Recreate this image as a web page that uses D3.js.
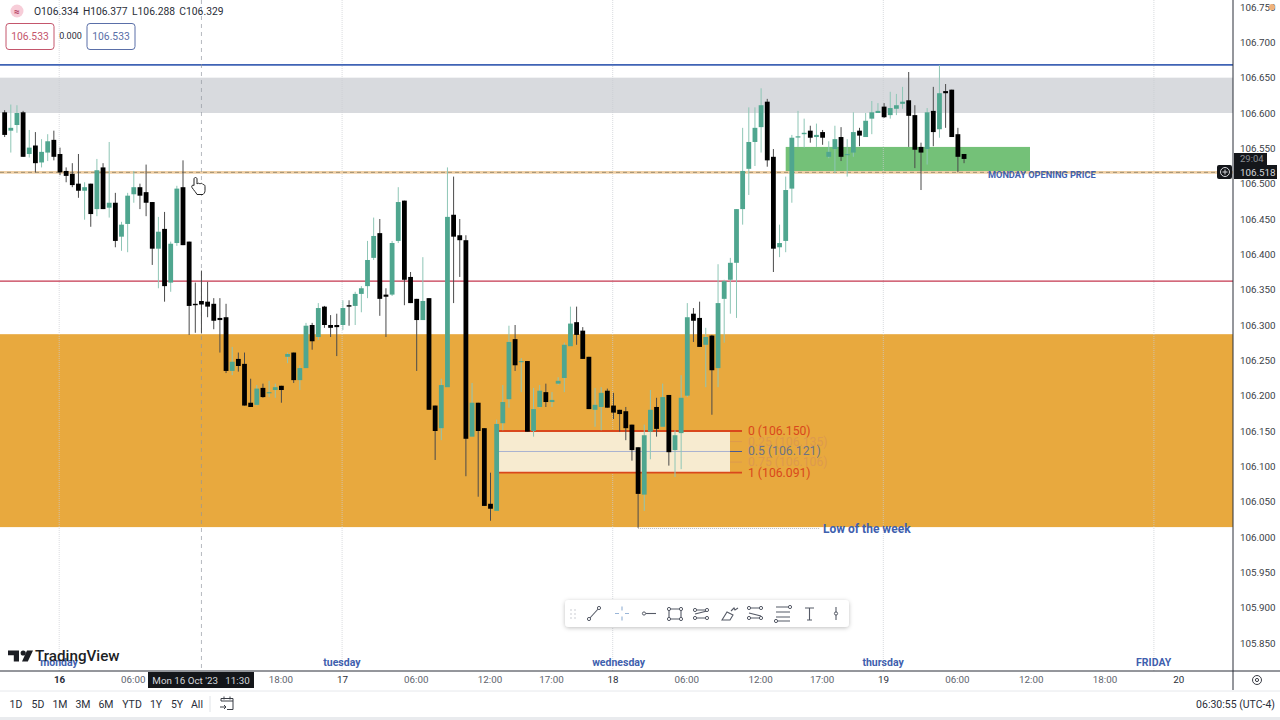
<!DOCTYPE html>
<html>
<head>
    <meta charset="utf-8">
    <title>DXY 30m chart</title>
    <style>
        html, body { margin: 0; padding: 0; background: #fff; }
        svg { display: block; font-family: "Roboto", "Liberation Sans", sans-serif; }
    </style>
    <script src="https://d3js.org/d3.v7.min.js"></script>
</head>
<body>
<div id="chart"></div>
<script>
    // 30 minute candles
    const opens = [
        106.601,106.575,106.583,106.601,106.542,106.554,106.530,106.544,106.562,106.542,
        106.518,106.514,106.500,106.490,106.500,106.464,106.523,106.466,106.473,106.425,
        106.443,106.485,106.495,106.488,106.474,106.408,106.436,106.360,106.416,106.495,
        106.418,106.330,106.334,106.333,106.330,106.310,106.311,106.235,106.252,106.245,
        106.190,106.187,106.211,106.204,106.208,106.214,106.255,106.261,106.222,106.239,
        106.300,106.283,106.326,106.300,106.300,106.300,106.328,106.327,106.344,106.355,
        106.395,106.430,106.343,106.343,106.419,106.476,106.368,106.337,106.307,106.338,
        106.186,106.154,106.212,106.456,106.427,106.420,106.142,106.190,106.154,106.047,
        106.037,106.161,106.195,106.280,106.248,106.249,106.150,106.184,106.205,106.191,
        106.217,106.225,106.270,106.304,106.292,106.255,106.180,106.184,106.207,106.186,
        106.180,106.178,106.159,106.127,106.060,106.149,106.184,106.156,106.201,106.123,
        106.147,106.200,106.316,106.310,106.272,106.285,106.239,106.337,106.364,106.388,
        106.464,106.521,106.559,106.580,106.616,106.538,106.410,106.419,106.493,106.566,
        106.570,106.575,106.566,106.573,106.538,106.549,106.566,106.541,106.544,106.575,
        106.566,106.592,106.600,106.609,106.597,106.606,106.613,106.618,106.597,106.552,
        106.549,106.603,106.577,106.631,106.633,106.570,106.542];
    const highs = [
        106.604,106.612,106.611,106.603,106.576,106.573,106.563,106.570,106.575,106.551,
        106.523,106.529,106.542,106.502,106.500,106.535,106.529,106.559,106.487,106.446,
        106.487,106.518,106.500,106.527,106.474,106.453,106.460,106.418,106.497,106.533,
        106.418,106.360,106.377,106.361,106.338,106.338,106.330,106.269,106.261,106.261,
        106.224,106.215,106.217,106.221,106.217,106.214,106.261,106.261,106.243,106.303,
        106.303,106.331,106.327,106.314,106.316,106.335,106.335,106.347,106.355,106.419,
        106.452,106.450,106.352,106.419,106.495,106.476,106.375,106.337,106.396,106.338,
        106.186,106.224,106.523,106.510,106.450,106.427,106.218,106.190,106.154,106.091,
        106.166,106.215,106.299,106.300,106.253,106.249,106.211,106.215,106.217,106.205,
        106.226,106.275,106.326,106.326,106.297,106.255,106.211,106.212,106.210,106.204,
        106.180,106.184,106.159,106.127,106.159,106.208,106.197,106.217,106.201,106.151,
        106.229,106.331,106.324,106.333,106.296,106.286,106.386,106.364,106.395,106.464,
        106.579,106.608,106.608,106.635,106.620,106.549,106.442,106.510,106.569,106.603,
        106.592,106.582,106.585,106.576,106.560,106.582,106.580,106.563,106.601,106.579,
        106.600,106.617,106.614,106.614,106.630,106.627,106.637,106.658,106.611,106.558,
        106.607,106.637,106.668,106.641,106.633,106.579,106.542];
    const lows = [
        106.566,106.544,106.572,106.538,106.537,106.516,106.523,106.532,106.533,106.512,
        106.502,106.495,106.480,106.449,106.439,106.454,106.464,106.452,106.410,106.405,
        106.403,106.473,106.464,106.454,106.385,106.352,106.333,106.347,106.412,106.413,
        106.286,106.289,106.288,106.311,106.294,106.261,106.232,106.229,106.234,106.186,
        106.184,106.186,106.197,106.198,106.197,106.190,106.246,106.218,106.208,106.239,
        106.265,106.279,106.296,106.283,106.256,106.293,106.299,106.300,106.318,106.338,
        106.392,106.313,106.283,106.341,106.416,106.328,106.331,106.235,106.307,106.180,
        106.109,106.137,106.212,106.331,106.368,106.086,106.142,106.057,106.044,106.023,
        106.037,106.151,106.183,106.235,106.205,106.149,106.142,106.183,106.184,106.184,
        106.215,106.205,106.270,106.272,106.252,106.181,106.156,106.151,106.183,106.167,
        106.149,106.137,106.108,106.013,106.037,106.110,106.142,106.156,106.101,106.085,
        106.096,106.198,106.276,106.269,106.212,106.173,106.212,106.275,106.316,106.310,
        106.442,106.484,106.525,106.544,106.524,106.375,106.396,106.403,106.473,106.552,
        106.551,106.558,106.552,106.555,106.536,106.515,106.532,106.510,106.538,106.553,
        106.566,106.570,106.600,106.593,106.592,106.597,106.606,106.552,106.522,106.491,
        106.527,106.553,106.565,106.579,106.566,106.516,106.529];
    const closes = [
        106.569,106.579,106.600,106.538,106.551,106.529,106.545,106.560,106.538,106.516,
        106.511,106.498,106.490,106.495,106.457,106.519,106.464,106.473,106.419,106.442,
        106.483,106.495,106.483,106.473,106.408,106.432,106.355,106.415,106.493,106.413,
        106.327,106.328,106.329,106.326,106.306,106.307,106.235,106.248,106.242,106.186,
        106.184,106.210,106.198,106.205,106.212,106.208,106.259,106.222,106.239,106.299,
        106.277,106.324,106.300,106.296,106.297,106.324,106.326,106.344,106.352,106.392,
        106.426,106.337,106.340,106.416,106.474,106.364,106.331,106.307,106.334,106.180,
        106.150,106.215,106.453,106.425,106.420,106.139,106.190,106.150,106.044,106.040,
        106.160,106.191,106.276,106.243,106.249,106.149,106.181,106.207,106.191,106.194,
        106.221,106.272,106.302,106.286,106.252,106.181,106.187,106.204,106.183,106.176,
        106.174,106.154,106.123,106.061,106.144,106.180,106.153,106.198,106.120,106.144,
        106.197,106.311,106.306,106.269,106.283,106.236,106.331,106.362,106.388,106.464,
        106.518,106.559,106.579,106.611,106.533,106.408,106.416,106.491,106.565,106.567,
        106.572,106.565,106.569,106.565,106.545,106.563,106.538,106.542,106.573,106.568,
        106.589,106.601,106.603,106.594,106.607,106.611,106.616,106.596,106.548,106.544,
        106.601,106.573,106.628,106.628,106.566,106.538,106.535];

    const priceTicks = d3.range(0, 19).map(i => +(106.75 - i * 0.05).toFixed(3));

    // bar index of each label on the time axis
    const timeBars = [9, 21, 45, 55, 67, 79, 89, 99, 111, 123, 133, 143, 155, 167, 179, 191];
    const timeLabels = ["16", "06:00", "18:00", "17", "06:00", "12:00", "17:00", "18", "06:00", "12:00", "17:00", "19", "06:00", "12:00", "18:00", "20"];

    // day separators drawn on the chart and their captions
    const dayBars = [9, 55, 99, 143, 187];
    const dayNames = ["monday", "tuesday", "wednesday", "thursday", "FRIDAY"];
    const dayNameBars = [9, 55, 100, 143, 187];

    const rangeButtons = ["1D", "5D", "1M", "3M", "6M", "YTD", "1Y", "5Y", "All"];
    const rangeX = [16, 38, 60, 83, 106, 132, 156, 177, 197];

    const fibLevels = [0, 0.25, 0.5, 0.75, 1];
    const fibPrices = [106.150, 106.135, 106.121, 106.106, 106.091];
    const fibColors = ["#d9481c", "#dd9a4e", "#6d7285", "#dd9a4e", "#d9481c"];

    const width = 1280, height = 720;
    const plotRight = 1233, plotBottom = 671;
    const green = "#4fa68f", greenWick = "#8ec6b6";

    const x = d3.scaleLinear().domain([0, 191]).range([4.65, 1179.3]);
    const y = d3.scaleLinear().domain([106.75, 105.85]).range([7, 643]);

    const svg = d3.select("#chart").append("svg")
        .attr("width", width)
        .attr("height", height);

    const plot = svg.append("g");

    // zones
    function zone(x0, x1, p0, p1, fill) {
        plot.append("rect")
            .attr("x", x0).attr("width", x1 - x0)
            .attr("y", y(p0)).attr("height", y(p1) - y(p0))
            .attr("fill", fill);
    }
    zone(0, plotRight, 106.650, 106.600, "#d8dade");
    zone(0, plotRight, 106.287, 106.014, "#e8a93e");
    zone(x(127), 1030, 106.552, 106.515, "#74c178");

    // day lines
    plot.selectAll("line.day")
        .data(dayBars)
        .join("line")
        .attr("class", "day")
        .attr("x1", d => x(d) - 0.8).attr("x2", d => x(d) - 0.8)
        .attr("y1", 0).attr("y2", plotBottom)
        .attr("stroke", "#c9ccd2")
        .attr("stroke-opacity", 0.7)
        .attr("stroke-dasharray", "1,1");

    // fib box, behind the candles
    const fibLeft = x(80), fibBoxRight = 730, fibRight = 742;
    zone(fibLeft, fibBoxRight, fibPrices[0], fibPrices[4], "#f7ebd0");
    plot.selectAll("line.fib")
        .data(fibPrices)
        .join("line")
        .attr("class", "fib")
        .attr("x1", (d, i) => i % 2 === 0 ? fibLeft : fibBoxRight)
        .attr("x2", fibRight)
        .attr("y1", d => y(d)).attr("y2", d => y(d))
        .attr("stroke", (d, i) => i === 2 ? "#a9b3d0" : fibColors[i])
        .attr("stroke-width", (d, i) => i % 4 === 0 ? 1.8 : 1);
    plot.append("line")
        .attr("x1", fibBoxRight).attr("x2", fibRight)
        .attr("y1", y(fibPrices[2])).attr("y2", y(fibPrices[2]))
        .attr("stroke", "#4a5a90");
    plot.selectAll("text.fib")
        .data(fibPrices)
        .join("text")
        .attr("class", "fib")
        .attr("x", 748)
        .attr("y", d => y(d) + 4)
        .attr("fill", (d, i) => fibColors[i])
        .attr("font-size", 12.2)
        .text((d, i) => `${fibLevels[i]} (${d.toFixed(3)})`);

    // horizontal levels
    function level(p, color, w) {
        plot.append("line")
            .attr("x1", 0).attr("x2", plotRight)
            .attr("y1", y(p)).attr("y2", y(p))
            .attr("stroke", color).attr("stroke-width", w);
    }
    level(106.668, "#3f63b5", 1.8);
    level(106.362, "#c4374f", 1.3);
    level(106.516, "#efcfa5", 2.6);
    plot.append("line")
        .attr("x1", 0).attr("x2", 1216)
        .attr("y1", y(106.516)).attr("y2", y(106.516))
        .attr("stroke", "#6b6650").attr("stroke-opacity", 0.75).attr("stroke-width", 0.8)
        .attr("stroke-dasharray", "4,3");

    // crosshair vertical
    plot.append("line")
        .attr("x1", x(32)).attr("x2", x(32))
        .attr("y1", 0).attr("y2", plotBottom)
        .attr("stroke", "#8f939c")
        .attr("stroke-opacity", 0.65)
        .attr("stroke-dasharray", "4,4");

    // candles
    const bars = d3.range(opens.length);
    const candle = plot.selectAll("g.candle")
        .data(bars)
        .join("g")
        .attr("class", "candle");
    candle.append("line")
        .attr("x1", d => x(d)).attr("x2", d => x(d))
        .attr("y1", d => y(highs[d])).attr("y2", d => y(lows[d]))
        .attr("stroke", d => closes[d] >= opens[d] ? greenWick : "#4a4a4a")
        .attr("stroke-width", 1);
    candle.append("rect")
        .attr("x", d => x(d) - 2.4)
        .attr("width", 4.8)
        .attr("y", d => y(Math.max(opens[d], closes[d])))
        .attr("height", d => Math.max(1.2, Math.abs(y(opens[d]) - y(closes[d]))))
        .attr("fill", d => closes[d] >= opens[d] ? green : "#000");

    // annotations
    plot.append("text")
        .attr("x", 988).attr("y", y(106.516) + 6)
        .attr("fill", "#3f5fae").attr("font-size", 9.2).attr("font-weight", 700)
        .text("MONDAY OPENING PRICE");
    plot.append("line")
        .attr("x1", x(103)).attr("x2", 820)
        .attr("y1", y(106.012)).attr("y2", y(106.012))
        .attr("stroke", "#b9bcc2").attr("stroke-dasharray", "1,1");
    plot.append("text")
        .attr("x", 823).attr("y", y(106.012) + 4)
        .attr("fill", "#3f5fae").attr("font-size", 12).attr("font-weight", 700)
        .text("Low of the week");

    plot.selectAll("text.dayname")
        .data(dayNames)
        .join("text")
        .attr("class", "dayname")
        .attr("x", (d, i) => x(dayNameBars[i]) - 1)
        .attr("y", 666)
        .attr("text-anchor", "middle")
        .attr("fill", "#3f5fae").attr("font-size", 10.5).attr("font-weight", 700)
        .text(d => d);

    // price axis
    svg.append("rect")
        .attr("x", plotRight).attr("y", 0)
        .attr("width", width - plotRight).attr("height", plotBottom)
        .attr("fill", "#fff");
    const priceAxis = svg.append("g")
        .attr("transform", `translate(${plotRight},0)`)
        .call(d3.axisRight(y).tickValues(priceTicks).tickFormat(d3.format(".3f")).tickSize(0).tickPadding(7));
    priceAxis.select(".domain").remove();
    priceAxis.selectAll("text")
        .attr("font-family", "Roboto")
        .attr("font-size", 9.8)
        .attr("fill", "#3b3e46");

    svg.append("circle").attr("cx", 1272).attr("cy", 7).attr("r", 3).attr("fill", "#efb27c");

    // last price tags
    svg.append("rect").attr("x", 1234).attr("y", 153).attr("width", 33).attr("height", 12).attr("fill", "#14161a");
    svg.append("text").attr("x", 1240).attr("y", 162).attr("fill", "#8d9096").attr("font-size", 9.5).text("29:04");
    svg.append("rect").attr("x", 1234).attr("y", 165).attr("width", 43).attr("height", 14).attr("fill", "#14161a");
    svg.append("text").attr("x", 1240).attr("y", 176).attr("fill", "#d4d6da").attr("font-size", 9.8).text("106.518");
    svg.append("rect").attr("x", 1217).attr("y", 165).attr("width", 15).attr("height", 14).attr("rx", 2).attr("fill", "#14161a");
    svg.append("circle").attr("cx", 1225).attr("cy", 172).attr("r", 4.5).attr("fill", "none").attr("stroke", "#d4d6da");
    svg.append("path").attr("d", "M1222.5,172h5M1225,169.5v5").attr("stroke", "#d4d6da");

    // time axis
    svg.append("rect").attr("x", 0).attr("y", plotBottom).attr("width", width).attr("height", height - plotBottom).attr("fill", "#fff");
    const timeAxis = svg.append("g")
        .attr("transform", `translate(-1,${plotBottom})`)
        .call(d3.axisBottom(x)
            .tickValues(timeBars)
            .tickFormat((d, i) => timeLabels[i])
            .tickSize(0).tickPadding(5));
    timeAxis.select(".domain").remove();
    timeAxis.selectAll("text")
        .attr("font-family", "Roboto")
        .attr("font-size", 9.8)
        .attr("fill", d => timeLabels[timeBars.indexOf(d)].includes(":") ? "#60646e" : "#2a2e39")
        .attr("font-weight", d => d === timeBars[0] ? 700 : 400);

    // crosshair tag
    svg.append("rect").attr("x", 148).attr("y", 672).attr("width", 106).attr("height", 16).attr("fill", "#14161a");
    svg.append("text").attr("x", 201).attr("y", 684).attr("text-anchor", "middle")
        .attr("fill", "#d4d6da").attr("font-size", 9.8).attr("xml:space", "preserve")
        .text("Mon 16 Oct '23   11:30");

    svg.append("line").attr("x1", 0).attr("x2", width).attr("y1", plotBottom).attr("y2", plotBottom).attr("stroke", "#2a2e39");
    svg.append("line").attr("x1", plotRight).attr("x2", plotRight).attr("y1", 0).attr("y2", 690).attr("stroke", "#2a2e39");
    svg.append("line").attr("x1", 0).attr("x2", width).attr("y1", 691).attr("y2", 691).attr("stroke", "#e6e8ec");
    svg.append("rect").attr("x", 0).attr("y", 717).attr("width", width).attr("height", 3).attr("fill", "#e9ebee");

    // settings icon
    svg.append("circle").attr("cx", 1257).attr("cy", 680).attr("r", 4.5).attr("fill", "none").attr("stroke", "#3b3e46");
    svg.append("circle").attr("cx", 1257).attr("cy", 680).attr("r", 1.6).attr("fill", "none").attr("stroke", "#3b3e46");

    // range bar
    svg.selectAll("text.range")
        .data(rangeButtons)
        .join("text")
        .attr("class", "range")
        .attr("x", (d, i) => rangeX[i])
        .attr("y", 708)
        .attr("text-anchor", "middle")
        .attr("fill", "#2a2e39").attr("font-size", 10.5)
        .text(d => d);
    svg.append("line").attr("x1", 210).attr("x2", 210).attr("y1", 696).attr("y2", 712).attr("stroke", "#e0e3e8");
    svg.append("path")
        .attr("d", "M221,701v-2.5h12v11h-6M221,701h12M224,696.5v3M230,696.5v3M220,707h6m-2,-2l2,2l-2,2")
        .attr("fill", "none").attr("stroke", "#3b3e46");
    svg.append("text").attr("x", 1275).attr("y", 708).attr("text-anchor", "end")
        .attr("fill", "#2a2e39").attr("font-size", 10.5).text("06:30:55 (UTC-4)");

    // legend, top left
    svg.append("circle").attr("cx", 17).attr("cy", 11).attr("r", 6.5).attr("fill", "#f7cdd8");
    svg.append("text").attr("x", 17).attr("y", 14.5).attr("text-anchor", "middle")
        .attr("fill", "#b0345a").attr("font-size", 10).attr("font-weight", 700).text("≈");
    svg.append("text").attr("x", 34).attr("y", 15).attr("fill", "#2a2e39").attr("font-size", 10.3)
        .attr("word-spacing", 1.8)
        .text("O106.334 H106.377 L106.288 C106.329");

    function priceBox(bx, color, label) {
        svg.append("rect").attr("x", bx).attr("y", 23.5).attr("width", 48).attr("height", 26).attr("rx", 3)
            .attr("fill", "#fff").attr("stroke", color);
        svg.append("text").attr("x", bx + 24).attr("y", 40).attr("text-anchor", "middle")
            .attr("fill", color).attr("font-size", 10.3).text(label);
    }
    priceBox(6, "#c4566c", "106.533");
    priceBox(87, "#5a6fa8", "106.533");
    svg.append("text").attr("x", 70.5).attr("y", 39).attr("text-anchor", "middle")
        .attr("fill", "#2a2e39").attr("font-size", 9).text("0.000");

    // logo
    const logo = svg.append("g").attr("fill", "#1c1e24");
    logo.append("path").attr("d", "M8,650.5h11v11h-5.2v-6.2h-5.8zM22,661.5l5,-11h6l-5.2,11z");
    logo.append("circle").attr("cx", 23.2).attr("cy", 653).attr("r", 2.6);
    logo.append("text").attr("x", 35).attr("y", 661).attr("font-size", 15.2).attr("font-weight", 500)
        .attr("font-family", "Roboto").text("TradingView");

    // drawing toolbar
    const defs = svg.append("defs");
    const shadow = defs.append("filter").attr("id", "toolShadow").attr("x", "-5%").attr("y", "-30%").attr("width", "110%").attr("height", "170%");
    shadow.append("feDropShadow").attr("dx", 0).attr("dy", 1).attr("stdDeviation", 2).attr("flood-color", "#000").attr("flood-opacity", 0.25);
    svg.append("rect").attr("x", 565).attr("y", 600).attr("width", 284).attr("height", 27).attr("rx", 4)
        .attr("fill", "#fff").attr("filter", "url(#toolShadow)");
    const toolPaths = [
        "M589,619L599,608",
        "M675,609h-6v10h12v-10z",
        "M646,613.5h10",
        "M695,610h12M695,614l12,-3M695,618h12",
        "M722,620l5,-8l6,3l-3,5zM731,611l3,-3l1,2l3,-2",
        "M749,608h12M749,613l12,3M749,618h12",
        "M776,607h14M776,612h14M776,617h14M776,621h14",
        "M805,608h9M809.5,608v12M807,620h5",
        "M836,607v13"
    ];
    svg.selectAll("path.tool")
        .data(toolPaths)
        .join("path")
        .attr("class", "tool")
        .attr("d", d => d)
        .attr("fill", "none")
        .attr("stroke", "#555a66")
        .attr("stroke-width", 1.1);
    svg.append("path").attr("d", "M622,606.5v4M622,616.5v4M615,613.5h4M625,613.5h4")
        .attr("fill", "none").attr("stroke", "#9ab6d8").attr("stroke-width", 1.2);
    const toolDots = [[589, 619], [599, 608], [644, 613.5], [669, 609], [681, 609], [669, 619], [681, 619], [695, 610], [707, 610], [695, 618], [707, 618], [749, 608], [761, 608], [749, 618], [761, 618], [790, 607], [776, 621], [836, 613.5]];
    svg.selectAll("circle.tool")
        .data(toolDots)
        .join("circle")
        .attr("class", "tool")
        .attr("cx", d => d[0]).attr("cy", d => d[1]).attr("r", 1.6)
        .attr("fill", "#fff").attr("stroke", "#555a66");
    svg.selectAll("circle.grip")
        .data([[571, 610], [575, 610], [571, 614], [575, 614], [571, 618], [575, 618]])
        .join("circle")
        .attr("class", "grip")
        .attr("cx", d => d[0]).attr("cy", d => d[1]).attr("r", 0.8)
        .attr("fill", "#c4c7cd");

    // hand cursor
    svg.append("path")
        .attr("d", "M194,179c0,-2 3,-2 3,0v5c1,-1 2,-1 3,0c1,-1 2,-1 3,0.5c1,0 2,0.5 2,2v4c0,2 -1,3 -2,4h-6c-1,-2 -3,-4 -5,-7c-1,-2 1,-3 2,-2l0,-6.5z")
        .attr("fill", "#fff").attr("stroke", "#222").attr("stroke-width", 1);
</script>
</body>
</html>
